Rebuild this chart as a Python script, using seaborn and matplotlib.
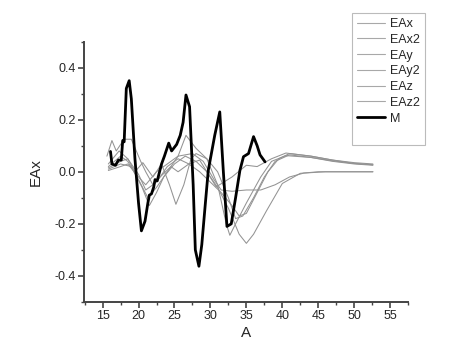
import numpy as np
import pandas as pd
import matplotlib
matplotlib.use("Agg")
import matplotlib.pyplot as plt
import seaborn as sns
from matplotlib.ticker import MultipleLocator
from matplotlib.lines import Line2D

# %%
# values (A, EAx)
eax_a = [15.8, 17.5, 19.0, 20.5, 21.5, 22.5, 23.5, 25.0, 26.5, 28.0, 29.5, 31.0,
         32.5, 34.0, 35.0, 36.0, 37.8, 40.0, 42.5, 45.0, 52.6]
eax_v = [0.01, 0.03, 0.02, -0.06, -0.13, -0.08, -0.02, 0.03, 0.06, 0.04, 0.0, -0.06,
         -0.14, -0.24, -0.275, -0.24, -0.15, -0.045, -0.006, 0.0, 0.0]

eax2_a = [15.8, 17.5, 18.5, 20.0, 21.0, 22.5, 24.0, 25.5, 27.5, 29.0, 30.5, 31.5,
          33.0, 35.0, 37.0, 39.0, 41.0, 43.0, 46.0, 52.6]
eax2_v = [0.005, 0.02, 0.03, -0.02, -0.05, 0.0, 0.03, 0.06, 0.07, 0.04, -0.03, -0.07,
          -0.075, -0.07, -0.07, -0.05, -0.02, -0.005, 0.0, 0.0]

eay_a = [15.6, 16.3, 16.9, 18.0, 19.0, 20.3, 21.0, 22.0, 23.0, 24.5, 25.5, 27.0,
         28.5, 30.8, 33.0, 35.0, 36.5, 38.5, 40.5, 44.0, 47.0, 50.0, 52.6]
eay_v = [0.06, 0.12, 0.08, 0.125, 0.125, 0.04, 0.0, -0.05, -0.02, 0.02, 0.0, 0.03,
         0.045, -0.058, -0.02, 0.025, 0.02, 0.05, 0.072, 0.06, 0.045, 0.032, 0.027]

eay2_a = [15.8, 17.5, 18.5, 20.0, 21.3, 22.5, 24.0, 25.5, 26.6, 28.0, 29.5, 31.0,
          32.2, 32.7, 33.5, 35.0, 37.0, 38.5, 40.5, 44.0, 47.0, 50.0, 52.6]
eay2_v = [0.02, 0.06, 0.04, -0.03, -0.1, -0.06, 0.0, 0.06, 0.14, 0.09, 0.05, -0.05,
          -0.2, -0.244, -0.2, -0.12, -0.02, 0.04, 0.062, 0.055, 0.04, 0.03, 0.025]

eaz_a = [15.8, 17.3, 18.5, 19.5, 20.6, 22.0, 23.2, 24.3, 25.2, 26.3, 27.3, 28.0,
         29.5, 31.0, 32.5, 33.5, 34.5, 36.0, 37.5, 39.0, 41.0, 44.0, 47.0, 50.0, 52.6]
eaz_v = [0.03, 0.08, 0.05, 0.0, 0.035, -0.02, 0.03, -0.05, -0.125, -0.05, 0.05, 0.07,
         0.05, 0.0, -0.1, -0.18, -0.17, -0.1, -0.02, 0.04, 0.065, 0.055, 0.042, 0.032, 0.027]

eaz2_a = [15.8, 17.5, 18.5, 20.0, 21.0, 22.5, 24.0, 25.5, 27.0, 28.5, 30.0, 31.5,
          33.0, 34.0, 35.0, 36.5, 38.0, 39.5, 41.0, 44.0, 47.0, 50.0, 52.6]
eaz2_v = [0.015, 0.04, 0.05, -0.01, -0.07, -0.04, 0.02, 0.05, 0.03, 0.0, -0.04, -0.08,
          -0.13, -0.17, -0.16, -0.08, 0.0, 0.05, 0.07, 0.06, 0.045, 0.035, 0.03]

m_a = [16.1, 16.3, 16.8, 17.2, 17.6, 17.8, 18.0, 18.3, 18.7, 19.0, 19.5, 20.0, 20.4,
       20.9, 21.3, 21.5, 21.8, 22.1, 22.3, 22.6, 23.2, 23.6, 24.2, 24.6, 25.3, 25.8,
       26.2, 26.6, 27.1, 27.6, 27.9, 28.4, 28.8, 29.3, 29.7, 30.6, 31.3, 31.8, 32.3,
       32.9, 33.5, 34.1, 34.6, 35.3, 36.0, 36.5, 36.9, 37.6]
m_v = [0.078, 0.03, 0.025, 0.045, 0.045, 0.12, 0.115, 0.32, 0.35, 0.28, 0.05, -0.12,
       -0.227, -0.19, -0.12, -0.09, -0.085, -0.06, -0.03, -0.035, 0.03, 0.06, 0.11, 0.08,
       0.105, 0.14, 0.19, 0.295, 0.25, -0.05, -0.30, -0.363, -0.28, -0.12, 0.005, 0.14,
       0.23, 0.0, -0.21, -0.2, -0.1, 0.005, 0.058, 0.07, 0.135, 0.1, 0.065, 0.038]

series = {
    "EAx": (eax_a, eax_v),
    "EAx2": (eax2_a, eax2_v),
    "EAy": (eay_a, eay_v),
    "EAy2": (eay2_a, eay2_v),
    "EAz": (eaz_a, eaz_v),
    "EAz2": (eaz2_a, eaz2_v),
    "M": (m_a, m_v),
}

# %%
sns.set_style("ticks")
plt.rcParams["font.family"] = ["Liberation Sans", "DejaVu Sans"]

fig = plt.figure(figsize=(4.74, 3.62), dpi=100)
ax = fig.add_axes([0.177, 0.166, 0.684, 0.719])

for name, (a, v) in series.items():
    df = pd.DataFrame({"A": a, "EAx": v})
    if name == "M":
        sns.lineplot(x="A", y="EAx", data=df, ax=ax, color="black", lw=2.0, zorder=5)
    else:
        sns.lineplot(x="A", y="EAx", data=df, ax=ax, color="#939393", lw=0.75)

ax.set_xlim(12.4, 57.5)
ax.set_ylim(-0.5, 0.5)
ax.xaxis.set_minor_locator(MultipleLocator(2.5))
ax.yaxis.set_minor_locator(MultipleLocator(0.1))
ax.set_xticks([15, 20, 25, 30, 35, 40, 45, 50, 55])
ax.set_yticks([-0.4, -0.2, 0.0, 0.2, 0.4])
ax.set_yticklabels(["-0.4", "-0.2", "0.0", "0.2", "0.4"])

sns.despine(ax=ax)
for s in ["left", "bottom"]:
    ax.spines[s].set_color("#444444")
    ax.spines[s].set_linewidth(1.4)
ax.tick_params(which="major", direction="out", length=4, width=1.2, color="#444444",
               labelsize=9, pad=2)
ax.tick_params(which="minor", direction="out", length=2.5, width=1.0, color="#444444")
ax.set_xlabel("A", fontsize=11, labelpad=3)
ax.set_ylabel("EAx", fontsize=11, labelpad=8)

handles = [Line2D([], [], color="#a8a8a8", lw=0.8) for _ in range(6)]
handles.append(Line2D([], [], color="black", lw=2.0))
handles.append(Line2D([], [], color="none"))
labels = ["EAx", "EAx2", "EAy", "EAy2", "EAz", "EAz2", "M", " "]
leg = fig.legend(handles, labels, loc="upper left", bbox_to_anchor=(0.743, 0.964),
                 fontsize=9, frameon=True, fancybox=False, handlelength=2.2,
                 handletextpad=0.4, labelspacing=0.3, borderpad=0.4, borderaxespad=0)
leg.get_frame().set_edgecolor("#aaaaaa")
leg.get_frame().set_linewidth(0.8)

fig.savefig("out.png", dpi=100)
